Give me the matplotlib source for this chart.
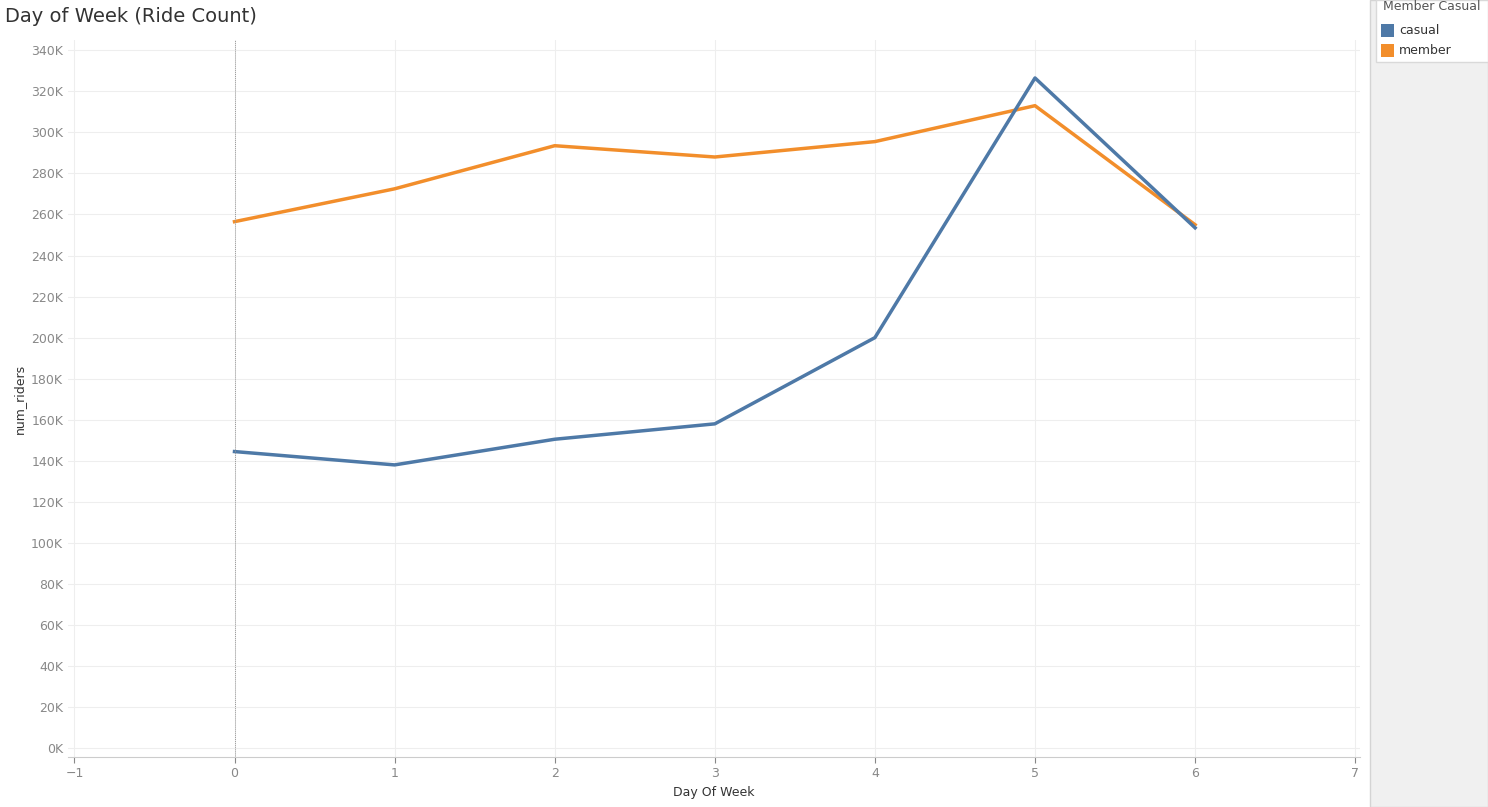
import matplotlib.pyplot as plt
from matplotlib.patches import Rectangle

days = [0, 1, 2, 3, 4, 5, 6]
casual = [144500, 138000, 150500, 158000, 200000, 326500, 253500]
member = [256500, 272500, 293500, 288000, 295500, 313000, 255000]
yticks = list(range(0, 340001, 20000))
ylabels = ["%dK" % (v // 1000) for v in yticks]

W, H = 1488, 807
fig = plt.figure(figsize=(W / 100, H / 100), dpi=100)
fig.patch.set_facecolor("white")

# grey legend panel on the right
fig.patches.append(Rectangle((1370 / W, 0), 118 / W, 1, transform=fig.transFigure,
                             facecolor="#f0f0f0", edgecolor="#d4d4d4", lw=1))
fig.patches.append(Rectangle((1376 / W, 1 - 62 / H), 112 / W, 62 / H, transform=fig.transFigure,
                             facecolor="white", edgecolor="#d9d9d9", lw=1))
fig.text(1383 / W, 1 - 7 / H, "Member Casual", fontsize=9, color="#555555", va="center")
fig.patches.append(Rectangle((1381 / W, 1 - 37 / H), 13 / W, 13 / H, transform=fig.transFigure,
                             facecolor="#4e79a7", edgecolor="none"))
fig.patches.append(Rectangle((1381 / W, 1 - 57 / H), 13 / W, 13 / H, transform=fig.transFigure,
                             facecolor="#f28e2b", edgecolor="none"))
fig.text(1399 / W, 1 - 30 / H, "casual", fontsize=9, color="#333333", va="center")
fig.text(1399 / W, 1 - 50 / H, "member", fontsize=9, color="#333333", va="center")

fig.text(5 / W, 1 - 17 / H, "Day of Week (Ride Count)", fontsize=14, color="#333333", va="center")

ax = fig.add_axes([68 / W, 1 - 757 / H, (1360 - 68) / W, (757 - 40) / H])
ax.plot(days, member, color="#f28e2b", lw=2.5)
ax.plot(days, casual, color="#4e79a7", lw=2.5)
ax.set_xlim(-1.04, 7.03)
ax.set_ylim(-4300, 345000)
ax.set_xticks(range(-1, 8))
ax.set_yticks(yticks)
ax.set_yticklabels(ylabels)
ax.tick_params(colors="#888888", labelsize=9, length=4)
ax.tick_params(axis="y", length=0)
ax.grid(color="#eeeeee", lw=0.8)
ax.set_axisbelow(True)
ax.axvline(0, color="#999999", lw=0.7, ls=(0, (1, 1)))
for s in ["top", "right", "left"]:
    ax.spines[s].set_visible(False)
ax.spines["bottom"].set_color("#cccccc")
ax.set_xlabel("Day Of Week", fontsize=9, color="#333333")
ax.set_ylabel("num_riders", fontsize=9, color="#333333")

fig.savefig("out.png", dpi=100)
